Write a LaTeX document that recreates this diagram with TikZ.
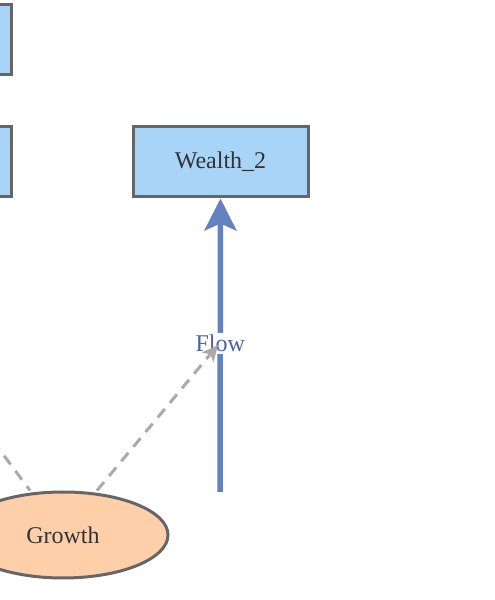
\documentclass[tikz,border=0pt]{standalone}
\usepackage{fontspec}
\setmainfont{Liberation Serif}
\usetikzlibrary{arrows.meta,shapes.geometric,calc}
\definecolor{boxfill}{HTML}{A8D4F7}
\definecolor{boxline}{HTML}{666666}
\definecolor{ellfill}{HTML}{FFCFAA}
\definecolor{txt}{HTML}{333333}
\definecolor{flowblue}{HTML}{6482BF}
\definecolor{flowtxt}{HTML}{4A62A4}
\definecolor{dashgray}{HTML}{AAAAAA}
\tikzset{
  stockbox/.style={draw=boxline, line width=3pt, fill=boxfill, minimum width=175pt, minimum height=70pt, inner sep=0pt, text=txt, font=\fontsize{24pt}{28pt}\selectfont},
  auxell/.style={ellipse, draw=boxline, line width=3pt, fill=ellfill, minimum width=210pt, minimum height=86pt, inner sep=0pt, text=txt, font=\fontsize{24pt}{28pt}\selectfont},
  flowarrow/.style={draw=flowblue, line width=5.5pt, -{Stealth[length=32pt,width=32pt,inset=7pt]}},
  infoline/.style={draw=dashgray, line width=3pt, dash pattern=on 11pt off 8pt},
  flowlabel/.style={fill=white, text=flowtxt, inner sep=2pt, font=\fontsize{24pt}{28pt}\selectfont}
}
\begin{document}
\begin{tikzpicture}[x=1pt,y=1pt]
\useasboundingbox (0,0) rectangle (495,600);
\clip (0,0) rectangle (495,600);
\node[stockbox] (w0) at (-76.5,560) {};
\node[stockbox] (w1) at (-76.5,438) {};
\node[stockbox] (w2) at (220.5,438) {Wealth\_2};
\node[auxell] (g) at (63,65) {Growth};
\coordinate (src) at (220,108);
\coordinate (lft) at (-30,190);
\coordinate (gs) at ($(g.north)+(34,0)$);
\coordinate (gl) at ($(g.north)+(-33,0)$);
\coordinate (ft) at (218,255);
\draw[flowarrow] (src) -- (w2.south) node[pos=0.5, yshift=2pt, flowlabel] (fl) {Flow};
\draw[infoline, -{Stealth[length=16pt,width=15pt,inset=4pt]}] (gs) -- (ft);
\draw[infoline] (lft) -- (gl);
\end{tikzpicture}
\end{document}
